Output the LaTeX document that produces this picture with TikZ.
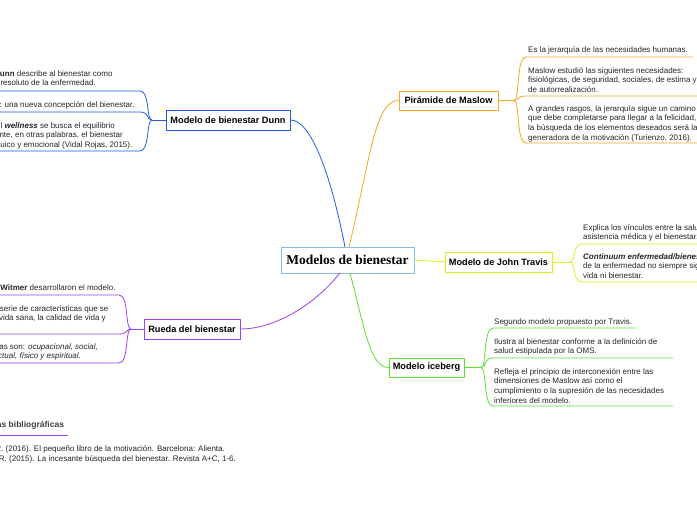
\documentclass[tikz,border=0pt]{standalone}
\usepackage{fontspec}
\setmainfont{Liberation Sans}
\newfontfamily\serifb{Liberation Serif}
\begin{document}
\begin{tikzpicture}[x=1pt,y=-1pt,
 leaf/.style={anchor=north west,inner sep=0pt,align=left,font=\fontsize{8}{9.7}\selectfont,text=black!85,yshift=-2pt},
 mainbox/.style={draw,line width=1pt,fill=white,inner sep=2pt,font=\fontsize{9.2}{11}\selectfont\bfseries},
 br/.style={line width=0.8pt}]
\definecolor{cdunn}{HTML}{1F5BEA}
\definecolor{cmas}{HTML}{F5A623}
\definecolor{ctra}{HTML}{D8F020}
\definecolor{cice}{HTML}{5BE030}
\definecolor{crue}{HTML}{A040E8}
\definecolor{ccen}{HTML}{8CBCE4}
\useasboundingbox (0,0) rectangle (697,520);
\fill[white] (0,0) rectangle (697,520);
% central
\node[draw=ccen,line width=1pt,minimum width=133pt,minimum height=26pt,inner sep=2pt,font=\serifb\fontsize{13.5}{15}\selectfont\bfseries] (c) at (347.5,260) {Modelos de bienestar};
\node[mainbox,draw=cdunn,minimum width=124pt,minimum height=20pt] (dunn) at (228,120) {Modelo de bienestar Dunn};
\node[mainbox,draw=cmas,minimum width=99pt,minimum height=19pt] (mas) at (448.5,100.5) {Pirámide de Maslow};
\node[mainbox,draw=ctra,minimum width=107pt,minimum height=20pt] (tra) at (498.5,262) {Modelo de John Travis};
\node[mainbox,draw=cice,minimum width=75pt,minimum height=19pt] (ice) at (426.5,367.5) {Modelo iceberg};
\node[mainbox,draw=crue,minimum width=96pt,minimum height=20pt] (rue) at (192,329) {Rueda del bienestar};
% center links
\draw[cdunn,br] (345,247) .. controls (330,170) and (310,120) .. (dunn.east);
\draw[cmas,br] (349,247) .. controls (370,160) and (375,100) .. (mas.west);
\draw[ctra,br] (c.east) -- (tra.west);
\draw[cice,br] (350,273) .. controls (365,330) and (370,367) .. (ice.west);
\draw[crue,br] (340,273) .. controls (310,310) and (270,329) .. (rue.east);
% Dunn leaves
\coordinate (bd) at (152,120);
\draw[cdunn,br] (dunn.west) -- (bd);
\foreach \y in {91,112,151}{\draw[cdunn,br] (bd) .. controls (146,120) and (150,\y) .. (140,\y) -- (-5,\y);}
\node[leaf] (d1) at (-34,68) {Halbert \textbf{Dunn} describe al bienestar como\\\hspace*{-3pt}un estado resoluto de la enfermedad.};
\node[leaf] (d2) at (-51,99) {\textbf{Dimensiones:} una nueva concepción del bienestar.};
\node[leaf] (d3) at (-21,120) {Con el \textbf{\textit{wellness}} se busca el equilibrio\\\hspace*{-17pt}integralmente, en otras palabras, el bienestar\\\hspace*{-17pt}físico, psíquico y emocional (Vidal Rojas, 2015).};
% Maslow leaves
\coordinate (bm) at (514,100.5);
\draw[cmas,br] (mas.east) -- (bm);
\foreach \y/\e in {57/693,96/705,143/705}{\draw[cmas,br] (bm) .. controls (520,100.5) and (516,\y) .. (526,\y) -- (\e,\y);}
\node[leaf] (m1) at (528,44) {Es la jerarquía de las necesidades humanas.};
\node[leaf] (m2) at (528,65) {Maslow estudió las siguientes necesidades:\\fisiológicas, de seguridad, sociales, de estima y\\de autorrealización.};
\node[leaf] (m3) at (528,103) {A grandes rasgos, la jerarquía sigue un camino\\que debe completarse para llegar a la felicidad,\\la búsqueda de los elementos deseados será la\\generadora de la motivación (Turienzo, 2016).};
% Travis leaves
\coordinate (bt) at (570,262);
\draw[ctra,br] (tra.east) -- (bt);
\foreach \y in {244,282}{\draw[ctra,br] (bt) .. controls (576,262) and (572,\y) .. (582,\y) -- (705,\y);}
\node[leaf] (t1) at (583,222) {Explica los vínculos entre la salud,\\asistencia médica y el bienestar.};
\node[leaf] (t2) at (583,251) {\textbf{\textit{Continuum enfermedad/bienestar}}: la ausencia\\de la enfermedad no siempre significa calidad de\\vida ni bienestar.};
% Iceberg leaves
\coordinate (bi) at (481,367.5);
\draw[cice,br] (ice.east) -- (bi);
\foreach \y/\e in {328/636,358/673,406/673}{\draw[cice,br] (bi) .. controls (487,367.5) and (483,\y) .. (493,\y) -- (\e,\y);}
\node[leaf] (i1) at (494,316) {Segundo modelo propuesto por Travis.};
\node[leaf] (i2) at (494,336) {Ilustra al bienestar conforme a la definición de\\salud estipulada por la OMS.};
\node[leaf] (i3) at (494,366) {Refleja el principio de interconexión entre las\\dimensiones de Maslow así como el\\cumplimiento o la supresión de las necesidades\\inferiores del modelo.};
% Rueda leaves
\coordinate (brr) at (131,329);
\draw[crue,br] (rue.west) -- (brr);
\foreach \y in {295,334,363}{\draw[crue,br] (brr) .. controls (125,329) and (129,\y) .. (119,\y) -- (-5,\y);}
\node[leaf] (r1) at (-30,282) {Myers y \textbf{Witmer} desarrollaron el modelo.};
\node[leaf] (r2) at (-71,303) {El bienestar es una serie de características que se\\relacionan con una vida sana, la calidad de vida y\\la satisfacción.};
\node[leaf] (r3) at (-44,341) {Las seis áreas son: \textit{ocupacional, social,}\\\hspace*{-18pt}\textit{emocional, intelectual, físico y espiritual.}};
% references
\node[leaf,font=\fontsize{8.5}{10}\selectfont\bfseries,text=black!75] (ref) at (-42,419) {Referencias bibliográficas};
\draw[crue,br] (-5,435) -- (68,435);
\node[leaf] (ref1) at (-40,443) {Turienzo, R. (2016). El pequeño libro de la motivación. Barcelona: Alienta.};
\node[leaf] (ref2) at (-46,453) {Vidal Rojas, R. (2015). La incesante búsqueda del bienestar. Revista A+C, 1-6.};
\end{tikzpicture}
\end{document}
